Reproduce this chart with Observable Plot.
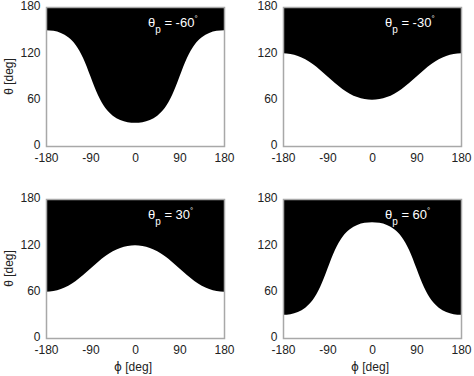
<!DOCTYPE html>
<html>
<head>
<meta charset="utf-8">
<script src="https://cdn.jsdelivr.net/npm/d3@7"></script>
<script src="https://cdn.jsdelivr.net/npm/@observablehq/plot@0.6"></script>
<style>
  html, body { margin: 0; padding: 0; background: white; }
  #chart { position: relative; width: 474px; height: 376px; overflow: hidden; font-family: "Liberation Sans", Arial, sans-serif; }
  #chart > div { position: absolute; }
</style>
</head>
<body>
<div id="chart"></div>
<script>
// azimuth phi [deg]
const phi = [-180,-165,-150,-135,-120,-105,-90,-75,-60,-45,-30,-15,0,15,30,45,60,75,90,105,120,135,150,165,180];
// boundary theta [deg] for each panel (black region lies above the boundary)
const thetaPm60 = [150,149.1,146.3,140.8,130.9,114.1,90,65.9,49.1,39.2,33.7,30.9,30,30.9,33.7,39.2,49.1,65.9,90,114.1,130.9,140.8,146.3,149.1,150];
const thetaPm30 = [120,119.2,116.6,112.2,106.1,98.5,90,81.5,73.9,67.8,63.4,60.9,60,60.9,63.4,67.8,73.9,81.5,90,98.5,106.1,112.2,116.6,119.2,120];
const thetaP30  = [60,60.8,63.4,67.8,73.9,81.5,90,98.5,106.1,112.2,116.6,119.2,120,119.2,116.6,112.2,106.1,98.5,90,81.5,73.9,67.8,63.4,60.8,60];
const thetaP60  = [30,30.9,33.7,39.2,49.1,65.9,90,114.1,130.9,140.8,146.3,149.1,150,149.1,146.3,140.8,130.9,114.1,90,65.9,49.1,39.2,33.7,30.9,30];
const panelLabels = ["-60", "-30", "30", "60"];
const xTicks = [-180, -90, 0, 90, 180];
const yTicks = [0, 60, 120, 180];
const xLabelSym = "ϕ", xLabelRest = " [deg]";
const yLabel = "θ [deg]";

const panels = [
  {values: thetaPm60, label: panelLabels[0], left: 0,   top: 0,   h: 185, mt: 7,  mb: 39, showY: true,  showX: false},
  {values: thetaPm30, label: panelLabels[1], left: 237, top: 0,   h: 185, mt: 7,  mb: 39, showY: false, showX: false},
  {values: thetaP30,  label: panelLabels[2], left: 0,   top: 185, h: 191, mt: 14, mb: 38, showY: true,  showX: true},
  {values: thetaP60,  label: panelLabels[3], left: 237, top: 185, h: 191, mt: 14, mb: 38, showY: false, showX: true}
];

const FONT = "Liberation Sans, Arial, DejaVu Sans, sans-serif";
const chart = document.getElementById("chart");
for (const p of panels) {
  const data = phi.map((f, i) => ({phi: f, theta: p.values[i]}));
  const W = 237, ml = 46, mr = 13;
  const plot = Plot.plot({
    width: W, height: p.h,
    marginLeft: ml, marginRight: mr, marginTop: p.mt, marginBottom: p.mb,
    style: {fontSize: "12px", fontFamily: FONT, color: "#222", background: "white", overflow: "visible"},
    x: {domain: [-180, 180]},
    y: {domain: [0, 180]},
    marks: [
      Plot.areaY(data, {x: "phi", y1: "theta", y2: 180, fill: "black", curve: "natural"}),
      Plot.frame({stroke: "#a8a8a8", strokeWidth: 1.5}),
      Plot.axisX({ticks: xTicks, tickSize: 0, tickPadding: 7, tickFormat: d => String(d), label: null}),
      Plot.axisY({ticks: yTicks, tickSize: 0, tickPadding: 6, tickFormat: d => String(d), label: null, dy: -1})
    ]
  });
  const svg = d3.select(plot);
  const xs = plot.scale("x"), ys = plot.scale("y");
  // panel annotation θp = ...°
  const tx = ml + 102, ty = p.mt + 20;
  const t = svg.append("text").attr("x", tx).attr("y", ty).attr("text-anchor", "start")
    .attr("fill", "white").attr("font-size", 13).attr("font-family", FONT);
  t.append("tspan").text("θ");
  t.append("tspan").attr("dy", 6).attr("font-size", 10).text("p");
  t.append("tspan").attr("dy", -6).text(" = " + p.label);
  t.append("tspan").attr("dy", -6).attr("font-size", 8).text("°");
  if (p.showY) {
    const cy = (ys.apply(0) + ys.apply(180)) / 2;
    svg.append("text").attr("transform", `translate(9,${cy}) rotate(-90)`)
      .attr("text-anchor", "middle").attr("dy", "0.35em").attr("font-size", 12).attr("fill", "#222")
      .attr("font-family", FONT).text(yLabel);
  }
  if (p.showX) {
    const cx = (xs.apply(-180) + xs.apply(180)) / 2;
    const xt = svg.append("text").attr("x", cx - 2).attr("y", p.h - 5)
      .attr("text-anchor", "middle").attr("font-size", 12).attr("fill", "#222")
      .attr("font-family", FONT);
    xt.append("tspan").attr("font-family", "DejaVu Sans").attr("fill", "#222").text(xLabelSym);
    xt.append("tspan").text(xLabelRest);
  }
  const wrap = document.createElement("div");
  wrap.style.left = p.left + "px";
  wrap.style.top = p.top + "px";
  wrap.appendChild(plot);
  chart.appendChild(wrap);
}
</script>
</body>
</html>
